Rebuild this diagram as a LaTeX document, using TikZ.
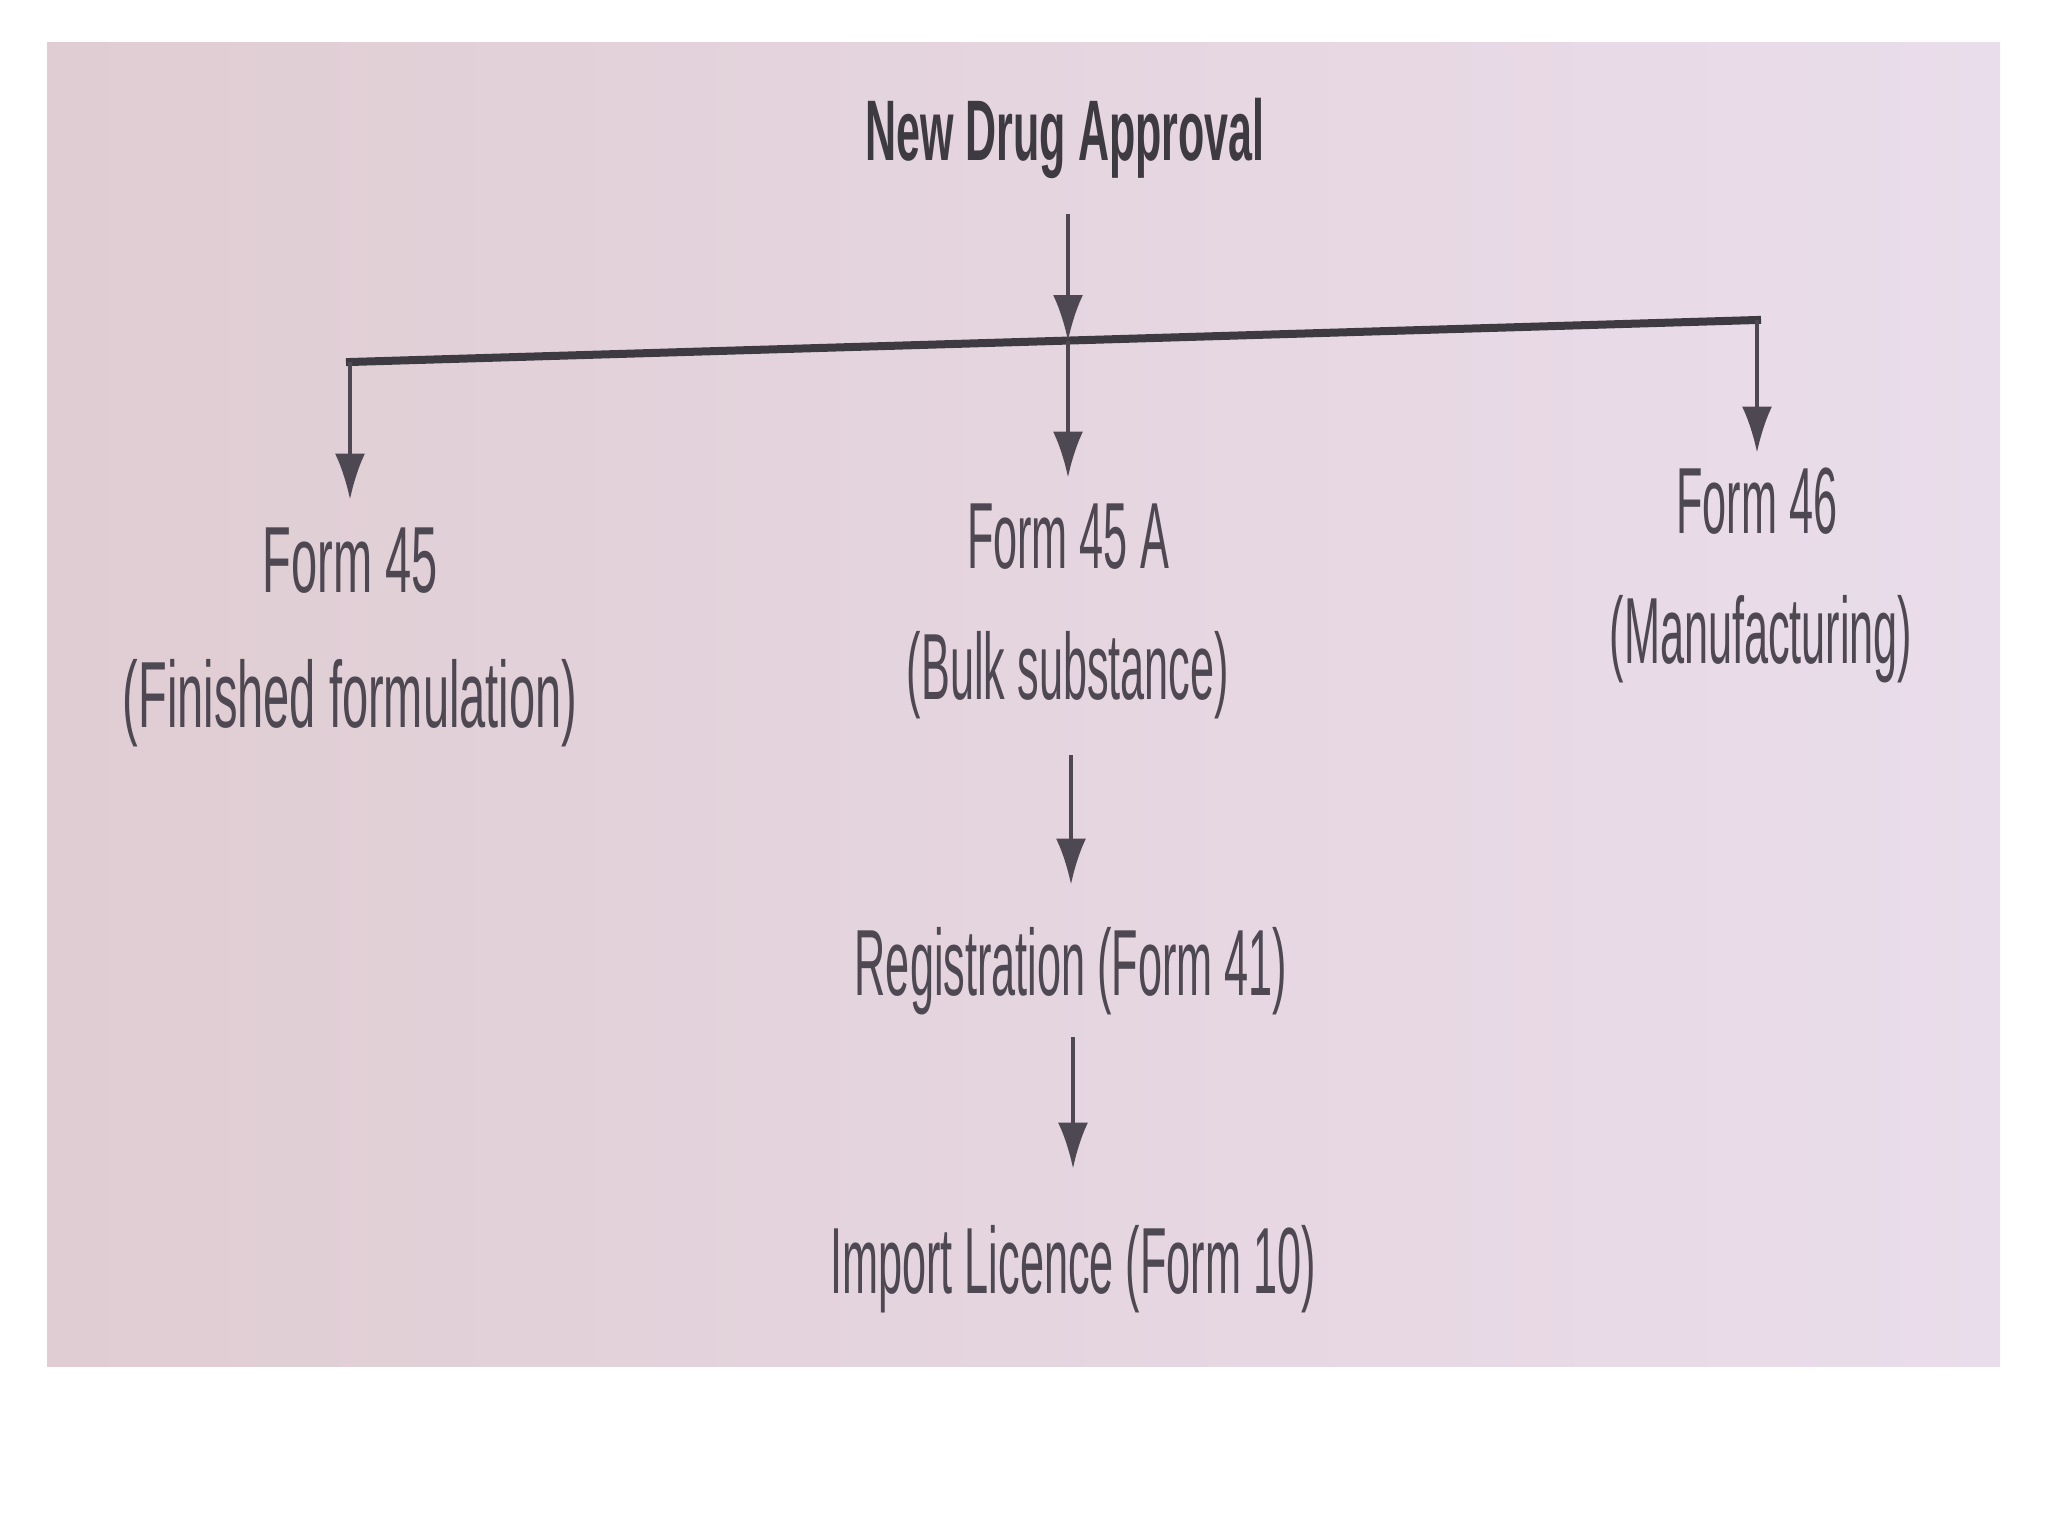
\documentclass[tikz,border=0pt]{standalone}
\usepackage{fontspec}
\setmainfont{Liberation Sans}[FakeStretch=0.5]
\newfontfamily\narrowfont{Liberation Sans}[FakeStretch=0.46]
\usetikzlibrary{arrows.meta, positioning}
\definecolor{ink}{HTML}{4E4852}
\definecolor{bgleft}{HTML}{E0CDD3}
\definecolor{bgright}{HTML}{EADDEB}

\begin{document}
\begin{tikzpicture}[x=0.5pt, y=-0.5pt, >={Latex[length=23pt, width=15pt]},
  lbl/.style={anchor=base, inner sep=0pt, text=ink, text height=34pt, text depth=10pt,
    font=\fontsize{47}{56}\selectfont},
  nlbl/.style={lbl, font=\narrowfont\fontsize{47}{56}\selectfont},
  arr/.style={->, draw=ink, line width=2pt},
  bus/.style={draw=ink!80!black, line width=4pt, line cap=rect}]
  % page and photo
  \useasboundingbox (0,0) rectangle (2048,1536);
  \fill[white] (0,0) rectangle (2048,1536);
  \shade[left color=bgleft, right color=bgright] (47,43) rectangle (2000,1366);

  % nodes
  \node[lbl, text=ink!80!black, font=\bfseries\fontsize{43}{50}\selectfont] (nda) at (1065,160) {New Drug Approval};
  \node[lbl]  (f45)  at (350,592)  {Form 45};
  \node[lbl]  (fin)  at (350,727)  {(Finished formulation)};
  \node[nlbl] (f45a) at (1068,568) {Form 45 A};
  \node[nlbl] (bulk) at (1068,699) {(Bulk substance)};
  \node[nlbl] (f46)  at (1757,533) {Form 46};
  \node[nlbl] (manu) at (1761,663) {(Manufacturing)};
  \node[nlbl] (reg)  at (1071,995) {Registration (Form 41)};
  \node[nlbl] (imp)  at (1073,1293) {Import Licence (Form 10)};

  % branch line
  \coordinate (busL) at (350,362);
  \coordinate (busM) at (1068,341);
  \coordinate (busR) at (1757,320);
  \draw[bus] (busL) -- (busR);

  % connectors
  \draw[arr, shorten <=17pt] (nda.south -| busM) -- (busM);
  \draw[arr, shorten >=12pt] (busL) -- (f45.north);
  \draw[arr, shorten >=11pt] (busM) -- (f45a.north);
  \draw[arr, shorten >=6pt]  (busR) -- (f46.north);
  \draw[arr, shorten <=18pt, shorten >=21pt] (bulk.south -| reg) -- (reg.north);
  \draw[arr, shorten <=11pt, shorten >=28pt] (reg.south -| imp) -- (imp.north);
\end{tikzpicture}
\end{document}
